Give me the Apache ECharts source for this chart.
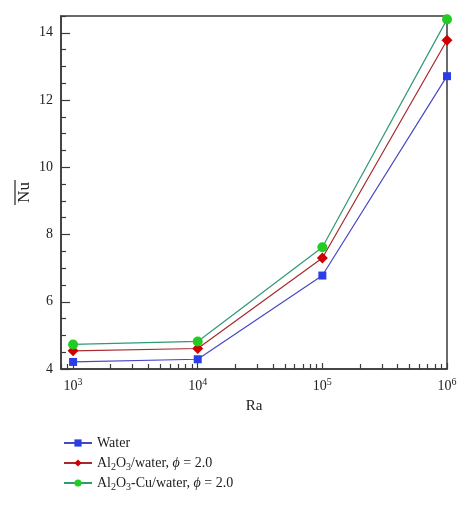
<!DOCTYPE html>
<html>
<head>
<meta charset="utf-8">
<script src="https://cdn.jsdelivr.net/npm/echarts@6/dist/echarts.min.js"></script>
<style>
  html, body { margin: 0; padding: 0; background: #fff; }
  #chart { width: 474px; height: 507px; }
</style>
</head>
<body>
<div id="chart"></div>
<script>
// data
var raValues = [1e3, 1e4, 1e5, 1e6];
var water = [4.21, 4.29, 6.78, 12.71];
var al2o3 = [4.54, 4.61, 7.30, 13.78];
var al2o3Cu = [4.73, 4.82, 7.62, 14.40];

var seriesNames = ['Water', 'Al2O3/water, \u03d5 = 2.0', 'Al2O3-Cu/water, \u03d5 = 2.0'];
var legendLabels = [
    'Water',
    'Al{sub|2}O{sub|3}/water, {i|\u03d5} = 2.0',
    'Al{sub|2}O{sub|3}-Cu/water, {i|\u03d5} = 2.0'
];

var xMajorExps = [3, 4, 5, 6];
var yMajorTicks = [4, 6, 8, 10, 12, 14];
var yMinorTicks = [4.5, 5, 5.5, 6.5, 7, 7.5, 8.5, 9, 9.5, 10.5, 11, 11.5, 12.5, 13, 13.5, 14.5];

// minor ticks of the log axis: 2..9 of each decade
var xMinorTicks = [];
for (var e = 2; e < 6; e++) {
    for (var k = 2; k <= 9; k++) {
        xMinorTicks.push(Math.log10(k * Math.pow(10, e)));
    }
}

var font = 'Liberation Serif';
var frame = '#3a3a3a';

function toPoints(vals) {
    var pts = [];
    for (var i = 0; i < raValues.length; i++) {
        pts.push([Math.log10(raValues[i]), vals[i]]);
    }
    return pts;
}

function makeSeries(idx, vals, lineColor, markColor, symbol, size) {
    return {
        name: seriesNames[idx],
        type: 'line',
        data: toPoints(vals),
        symbol: symbol,
        symbolSize: size,
        lineStyle: { color: lineColor, width: 1.2 },
        itemStyle: { color: markColor },
        z: 3 + idx
    };
}

var chart = echarts.init(document.getElementById('chart'));

var option = {
    backgroundColor: '#fff',
    animation: false,
    grid: {
        left: 61,
        right: 27,
        top: 16,
        bottom: 138,
        show: true,
        borderColor: frame,
        borderWidth: 1.5,
        backgroundColor: 'transparent'
    },
    xAxis: [{
        type: 'value',
        min: Math.log10(800),
        max: 6,
        position: 'bottom',
        name: 'Ra',
        nameLocation: 'middle',
        nameGap: 30,
        nameTextStyle: { fontFamily: font, fontSize: 15, color: '#222' },
        axisLine: { show: true, lineStyle: { color: frame, width: 1.5 } },
        axisTick: { show: true, inside: true, length: 6, customValues: xMajorExps,
            lineStyle: { color: frame, width: 1.2 } },
        axisLabel: {
            customValues: xMajorExps,
            margin: 8,
            fontFamily: font,
            fontSize: 14,
            color: '#222',
            formatter: function (v) { return '10{sup|' + Math.round(v) + '}'; },
            rich: {
                sup: { fontFamily: font, fontSize: 10, color: '#222', verticalAlign: 'top', lineHeight: 18 }
            }
        },
        splitLine: { show: false }
    }, {
        type: 'value',
        min: Math.log10(800),
        max: 6,
        position: 'bottom',
        axisLine: { show: false },
        axisTick: { show: true, inside: true, length: 5, customValues: xMinorTicks,
            lineStyle: { color: frame, width: 1.2 } },
        axisLabel: { show: false },
        splitLine: { show: false }
    }],
    yAxis: [{
        type: 'value',
        min: 4,
        max: 14.5,
        position: 'left',
        name: 'Nu',
        nameLocation: 'middle',
        nameRotate: 90,
        nameGap: 28,
        nameMoveOverlap: false,
        nameTextStyle: { fontFamily: font, fontSize: 17, color: '#222' },
        axisLine: { show: true, lineStyle: { color: frame, width: 1.5 } },
        axisTick: { show: true, inside: true, length: 9, customValues: yMajorTicks,
            lineStyle: { color: frame, width: 1.2 } },
        axisLabel: { customValues: yMajorTicks, margin: 8, fontFamily: font, fontSize: 14, color: '#222' },
        splitLine: { show: false }
    }, {
        type: 'value',
        min: 4,
        max: 14.5,
        position: 'left',
        axisLine: { show: false },
        axisTick: { show: true, inside: true, length: 5, customValues: yMinorTicks,
            lineStyle: { color: frame, width: 1.2 } },
        axisLabel: { show: false },
        splitLine: { show: false }
    }],
    legend: {
        orient: 'vertical',
        left: 58,
        top: 429,
        itemWidth: 28,
        itemHeight: 9,
        itemGap: 2,
        data: seriesNames,
        formatter: function (name) {
            return legendLabels[seriesNames.indexOf(name)];
        },
        textStyle: {
            fontFamily: font,
            fontSize: 14,
            color: '#222',
            lineHeight: 18,
            rich: {
                sub: { fontFamily: font, fontSize: 10, color: '#222', verticalAlign: 'bottom', lineHeight: 18 },
                i: { fontFamily: font, fontSize: 14, fontStyle: 'italic', color: '#222', lineHeight: 18 }
            }
        }
    },
    graphic: [{
        // overline of the Nu label
        type: 'line',
        shape: { x1: 15, y1: 180, x2: 15, y2: 205 },
        style: { stroke: '#222', lineWidth: 1.2 }
    }],
    series: [
        makeSeries(0, water, '#4848c4', '#2b3de6', 'rect', 8),
        makeSeries(1, al2o3, '#a82a2a', '#d00000', 'diamond', 11),
        makeSeries(2, al2o3Cu, '#2f9a74', '#22cc22', 'circle', 10)
    ]
};

chart.setOption(option);
</script>
</body>
</html>
